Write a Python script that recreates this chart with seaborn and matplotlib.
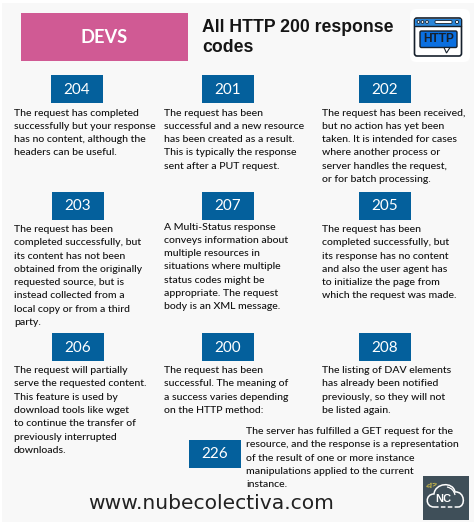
import matplotlib
matplotlib.use("Agg")
import matplotlib.pyplot as plt
from matplotlib.patches import Rectangle, FancyBboxPatch, Circle, Polygon, PathPatch
from matplotlib.path import Path
import seaborn as sns

sns.set_theme(style="white")
plt.rcParams['font.family'] = ['Lato', 'DejaVu Sans']

BADGE_LABELS = ["204", "201", "202", "203", "207", "205", "206", "200", "208"]
DESCRIPTIONS = [
    ["The request has completed", "successfully but your response", "has no content, although the", "headers can be useful."],
    ["The request has been", "successful and a new resource", "has been created as a result.", "This is typically the response", "sent after a PUT request."],
    ["The request has been received,", "but no action has yet been", "taken. It is intended for cases", "where another process or", "server handles the request,", "or for batch processing."],
    ["The request has been", "completed successfully, but", "its content has not been", "obtained from the originally", "requested source, but is", "instead collected from a", "local copy or from a third", "party."],
    ["A Multi-Status response", "conveys information about", "multiple resources in", "situations where multiple", "status codes might be", "appropriate. The request", "body is an XML message."],
    ["The request has been", "completed successfully, but", "its response has no content", "and also the user agent has", "to initialize the page from", "which the request was made."],
    ["The request will partially", "serve the requested content.", "This feature is used by", "download tools like wget", "to continue the transfer of", "previously interrupted", "downloads."],
    ["The request has been", "successful. The meaning of", "a success varies depending", "on the HTTP method:"],
    ["The listing of DAV elements", "has already been notified", "previously, so they will not", "be listed again."],
]
LAST_LABEL = "226"
LAST_TEXT = ["The server has fulfilled a GET request for the", "resource, and the response is a representation", "of the result of one or more instance", "manipulations applied to the current", "instance."]
BANNER = "DEVS"
TITLE = ["All HTTP 200 response", "codes"]
SITE = "www.nubecolectiva.com"

BLUE = "#04609c"
INK = "#111111"
BADGE_X = [51, 202, 359, 52, 202, 359, 52, 202, 359]
BADGE_Y = [75, 75, 75, 191.5, 191.5, 191.5, 333, 333, 333]
TEXT_X = [14, 164.5, 322, 14, 164.5, 322, 14, 164.5, 322]
TEXT_Y = [113, 113, 113, 229.5, 227, 229.5, 370.5, 370.5, 370.5]
STEP = 13.3
FS = 7.53
TITLE_FS = 12.67
SITE_FS = 14.6
BANNER_FS = 13.15
BADGE_FS = 11

fig = plt.figure(figsize=(4.74, 5.26), dpi=100, facecolor="white")
ax = fig.add_axes([0, 0, 1, 1])
ax.set_xlim(0, 474)
ax.set_ylim(526, 0)
ax.axis("off")

ax.add_patch(Rectangle((2, 3), 472, 519, fc="#f8f8f8", ec="none"))
ax.add_patch(Rectangle((21, 13), 167, 48, fc="#d05a94", ec="none"))
ax.text(104, 37.5, BANNER, color="white", fontsize=BANNER_FS, fontweight="bold", ha="center", va="center")
for i, t in enumerate(TITLE):
    ax.text(202, 27 + i * 21, t, family="Liberation Sans", fontweight="bold", fontsize=TITLE_FS, color="#151515", ha="left", va="center")


def badge(x, y, label):
    ax.add_patch(Rectangle((x, y), 52, 28, fc=BLUE, ec="none"))
    ax.text(x + 26, y + 14.5, label, color="white", fontsize=BADGE_FS, ha="center", va="center")


def para(x, y, lines):
    for i, t in enumerate(lines):
        ax.text(x, y + i * STEP, t, color=INK, fontsize=FS, fontweight=500, ha="left", va="center")


for lab, lines, bx, by, tx, ty in zip(BADGE_LABELS, DESCRIPTIONS, BADGE_X, BADGE_Y, TEXT_X, TEXT_Y):
    badge(bx, by, lab)
    para(tx, ty, lines)
badge(189, 440, LAST_LABEL)
para(246.5, 431.5, LAST_TEXT)
ax.text(211.5, 503.5, SITE, color="#222222", fontsize=SITE_FS, ha="center", va="center", family="DejaVu Sans")

# HTTP icon
DARK = "#16202c"
ax.add_patch(FancyBboxPatch((410, 9), 60, 53, boxstyle="round,pad=0,rounding_size=6", fc="white", ec="none"))
ax.add_patch(FancyBboxPatch((414.5, 18), 47, 38, boxstyle="round,pad=0,rounding_size=2.5", fc="white", ec=DARK, lw=1.2))
ax.add_patch(Rectangle((415, 18.5), 46, 7.5, fc="#2b86d8", ec="none"))
ax.plot([415, 461.5], [26, 26], color=DARK, lw=1)
for cx in (418.5, 422.5, 427):
    ax.add_patch(Circle((cx, 22), 1.4, fc="white", ec=DARK, lw=.6))
ax.add_patch(FancyBboxPatch((435, 20.5), 17, 3, boxstyle="round,pad=0,rounding_size=1.2", fc="white", ec=DARK, lw=.6))
ax.add_patch(Circle((457, 22), 1.6, fc="white", ec=DARK, lw=.6))
ax.add_patch(FancyBboxPatch((420, 31), 37, 16.5, boxstyle="round,pad=0,rounding_size=1.5", fc="#0a6fe0", ec=DARK, lw=1))
ax.add_patch(Polygon([(444, 47.5), (450, 47.5), (446.5, 53)], fc="white", ec=DARK, lw=.8))
ax.text(438.5, 39.5, "HTTP", family="Liberation Sans", fontweight="bold", fontsize=8.6, color=DARK, ha="center", va="center")

# NC logo
ax.add_patch(Rectangle((423, 475.5), 46, 44, fc="#3f4f59", ec="none"))
cloud = Path(
    [(434, 507), (425, 507), (425, 494), (434, 494), (435, 483), (453, 481), (455, 492), (465, 491), (466, 507), (458, 507)],
    [Path.MOVETO, Path.CURVE4, Path.CURVE4, Path.CURVE4, Path.CURVE4, Path.CURVE4, Path.CURVE4, Path.CURVE4, Path.CURVE4, Path.CURVE4],
)
ax.add_patch(PathPatch(cloud, fc="none", ec="white", lw=1.1))
ax.plot([434, 458], [507, 507], color="white", lw=1.1, ls=(0, (3, 1.5)))
arc = Path([(447, 487), (452, 488), (454, 491), (455, 495)], [Path.MOVETO, Path.CURVE4, Path.CURVE4, Path.CURVE4])
ax.add_patch(PathPatch(arc, fc="none", ec="white", lw=.9))
ax.text(443, 499.5, "NC", color="white", fontsize=8, fontweight="bold", ha="center", va="center", family="Liberation Sans")
ax.text(432.5, 486, "</>", color="#d8c34a", fontsize=6, fontweight="bold", ha="center", va="center", rotation=15, family="Liberation Sans")

fig.savefig("out.png", dpi=100, facecolor="white")
